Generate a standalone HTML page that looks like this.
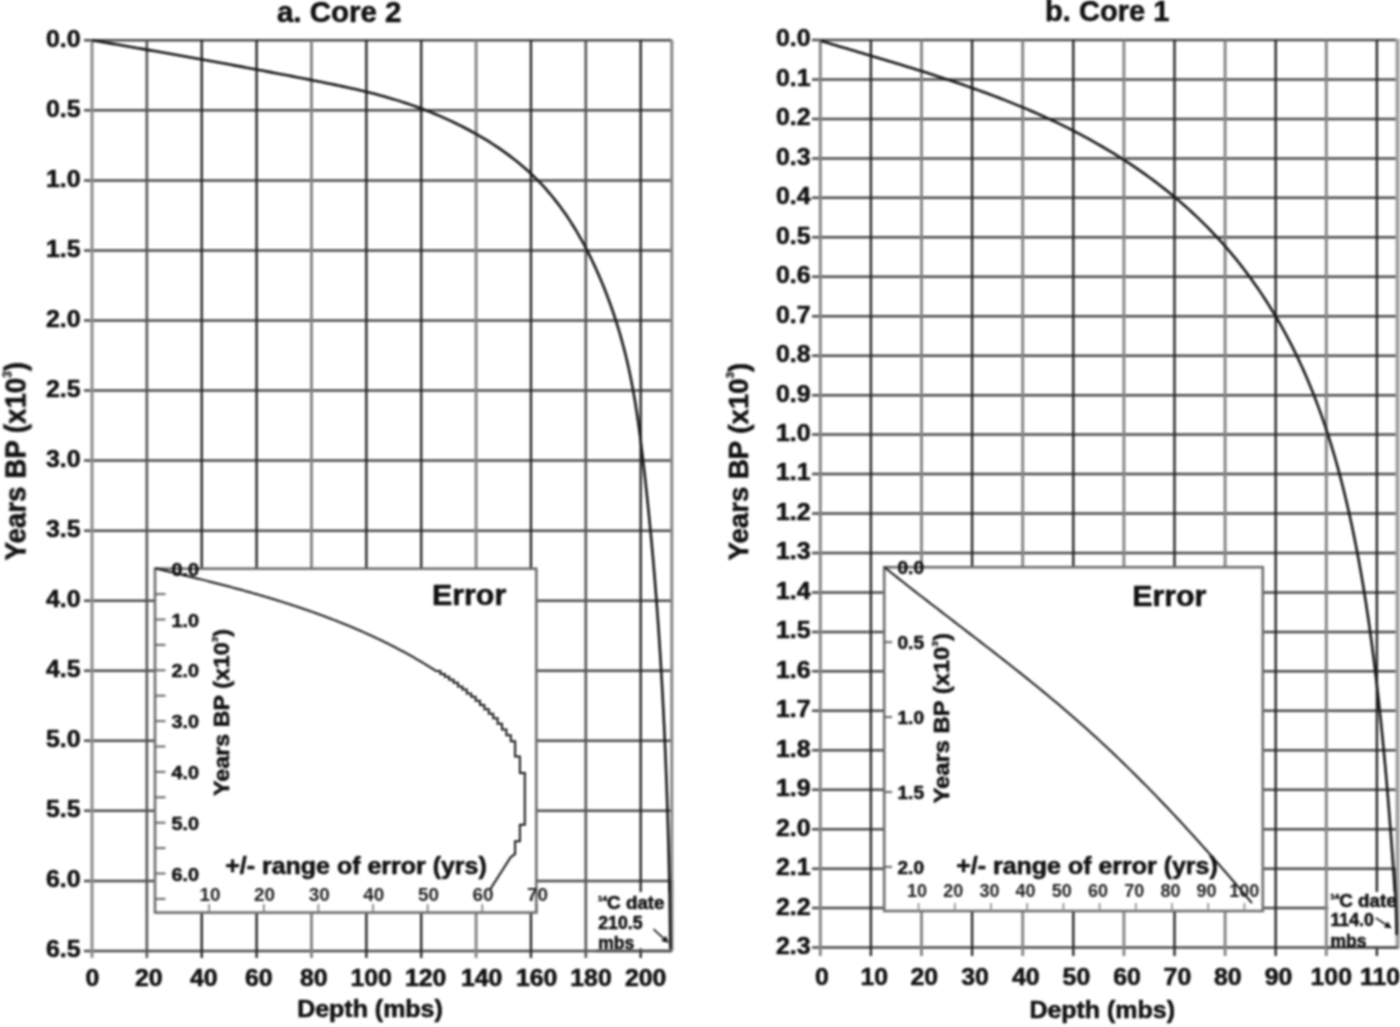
<!DOCTYPE html>
<html><head><meta charset="utf-8"><title>Age-depth curves</title>
<style>
html,body{margin:0;padding:0;background:#fff;overflow:hidden;}
svg{display:block;}
text{font-family:"Liberation Sans", Arial, Helvetica, sans-serif;stroke:#111;stroke-width:0.55px;stroke-linejoin:round;}
</style></head><body>
<svg width="1400" height="1027" viewBox="0 0 1400 1027">
<defs><filter id="soft" color-interpolation-filters="sRGB" filterUnits="userSpaceOnUse" x="0" y="0" width="1400" height="1027"><feGaussianBlur stdDeviation="0.85"/></filter></defs>
<rect width="1400" height="1027" fill="#fff"/>
<g filter="url(#soft)">
<line x1="84.00" y1="40.30" x2="671.80" y2="40.30" stroke="#4a4a4a" stroke-width="2.5" />
<line x1="84.00" y1="110.35" x2="671.80" y2="110.35" stroke="#4a4a4a" stroke-width="2.5" />
<line x1="84.00" y1="180.40" x2="671.80" y2="180.40" stroke="#4a4a4a" stroke-width="2.5" />
<line x1="84.00" y1="250.45" x2="671.80" y2="250.45" stroke="#4a4a4a" stroke-width="2.5" />
<line x1="84.00" y1="320.50" x2="671.80" y2="320.50" stroke="#4a4a4a" stroke-width="2.5" />
<line x1="84.00" y1="390.55" x2="671.80" y2="390.55" stroke="#4a4a4a" stroke-width="2.5" />
<line x1="84.00" y1="460.60" x2="671.80" y2="460.60" stroke="#4a4a4a" stroke-width="2.5" />
<line x1="84.00" y1="530.65" x2="671.80" y2="530.65" stroke="#4a4a4a" stroke-width="2.5" />
<line x1="84.00" y1="600.70" x2="671.80" y2="600.70" stroke="#4a4a4a" stroke-width="2.5" />
<line x1="84.00" y1="670.75" x2="671.80" y2="670.75" stroke="#4a4a4a" stroke-width="2.5" />
<line x1="84.00" y1="740.80" x2="671.80" y2="740.80" stroke="#4a4a4a" stroke-width="2.5" />
<line x1="84.00" y1="810.85" x2="671.80" y2="810.85" stroke="#4a4a4a" stroke-width="2.5" />
<line x1="84.00" y1="880.90" x2="671.80" y2="880.90" stroke="#4a4a4a" stroke-width="2.5" />
<line x1="84.00" y1="950.95" x2="671.80" y2="950.95" stroke="#4a4a4a" stroke-width="2.5" />
<line x1="92.00" y1="40.30" x2="92.00" y2="958.00" stroke="#8c8c8c" stroke-width="3" />
<line x1="146.87" y1="40.30" x2="146.87" y2="958.00" stroke="#555" stroke-width="2.6" />
<line x1="201.74" y1="40.30" x2="201.74" y2="958.00" stroke="#262626" stroke-width="2.4" />
<line x1="256.61" y1="40.30" x2="256.61" y2="958.00" stroke="#262626" stroke-width="2.4" />
<line x1="311.48" y1="40.30" x2="311.48" y2="958.00" stroke="#858585" stroke-width="2.9" />
<line x1="366.35" y1="40.30" x2="366.35" y2="958.00" stroke="#262626" stroke-width="2.4" />
<line x1="421.22" y1="40.30" x2="421.22" y2="958.00" stroke="#262626" stroke-width="2.4" />
<line x1="476.09" y1="40.30" x2="476.09" y2="958.00" stroke="#858585" stroke-width="2.9" />
<line x1="530.96" y1="40.30" x2="530.96" y2="958.00" stroke="#262626" stroke-width="2.4" />
<line x1="585.83" y1="40.30" x2="585.83" y2="958.00" stroke="#555" stroke-width="2.6" />
<line x1="640.70" y1="40.30" x2="640.70" y2="958.00" stroke="#262626" stroke-width="2.4" />
<line x1="671.80" y1="40.30" x2="671.80" y2="950.95" stroke="#858585" stroke-width="3" />
<line x1="812.00" y1="40.00" x2="1397.60" y2="40.00" stroke="#4a4a4a" stroke-width="2.5" />
<line x1="812.00" y1="79.46" x2="1397.60" y2="79.46" stroke="#4a4a4a" stroke-width="2.5" />
<line x1="812.00" y1="118.92" x2="1397.60" y2="118.92" stroke="#4a4a4a" stroke-width="2.5" />
<line x1="812.00" y1="158.38" x2="1397.60" y2="158.38" stroke="#4a4a4a" stroke-width="2.5" />
<line x1="812.00" y1="197.84" x2="1397.60" y2="197.84" stroke="#4a4a4a" stroke-width="2.5" />
<line x1="812.00" y1="237.30" x2="1397.60" y2="237.30" stroke="#4a4a4a" stroke-width="2.5" />
<line x1="812.00" y1="276.76" x2="1397.60" y2="276.76" stroke="#4a4a4a" stroke-width="2.5" />
<line x1="812.00" y1="316.22" x2="1397.60" y2="316.22" stroke="#4a4a4a" stroke-width="2.5" />
<line x1="812.00" y1="355.68" x2="1397.60" y2="355.68" stroke="#4a4a4a" stroke-width="2.5" />
<line x1="812.00" y1="395.14" x2="1397.60" y2="395.14" stroke="#4a4a4a" stroke-width="2.5" />
<line x1="812.00" y1="434.60" x2="1397.60" y2="434.60" stroke="#4a4a4a" stroke-width="2.5" />
<line x1="812.00" y1="474.06" x2="1397.60" y2="474.06" stroke="#4a4a4a" stroke-width="2.5" />
<line x1="812.00" y1="513.52" x2="1397.60" y2="513.52" stroke="#4a4a4a" stroke-width="2.5" />
<line x1="812.00" y1="552.98" x2="1397.60" y2="552.98" stroke="#4a4a4a" stroke-width="2.5" />
<line x1="812.00" y1="592.44" x2="1397.60" y2="592.44" stroke="#4a4a4a" stroke-width="2.5" />
<line x1="812.00" y1="631.90" x2="1397.60" y2="631.90" stroke="#4a4a4a" stroke-width="2.5" />
<line x1="812.00" y1="671.36" x2="1397.60" y2="671.36" stroke="#4a4a4a" stroke-width="2.5" />
<line x1="812.00" y1="710.82" x2="1397.60" y2="710.82" stroke="#4a4a4a" stroke-width="2.5" />
<line x1="812.00" y1="750.28" x2="1397.60" y2="750.28" stroke="#4a4a4a" stroke-width="2.5" />
<line x1="812.00" y1="789.74" x2="1397.60" y2="789.74" stroke="#4a4a4a" stroke-width="2.5" />
<line x1="812.00" y1="829.20" x2="1397.60" y2="829.20" stroke="#4a4a4a" stroke-width="2.5" />
<line x1="812.00" y1="868.66" x2="1397.60" y2="868.66" stroke="#4a4a4a" stroke-width="2.5" />
<line x1="812.00" y1="908.12" x2="1397.60" y2="908.12" stroke="#4a4a4a" stroke-width="2.5" />
<line x1="812.00" y1="947.58" x2="1397.60" y2="947.58" stroke="#4a4a4a" stroke-width="2.5" />
<line x1="820.30" y1="40.00" x2="820.30" y2="956.00" stroke="#858585" stroke-width="2.9" />
<line x1="870.90" y1="40.00" x2="870.90" y2="956.00" stroke="#262626" stroke-width="2.4" />
<line x1="921.50" y1="40.00" x2="921.50" y2="956.00" stroke="#858585" stroke-width="2.9" />
<line x1="972.10" y1="40.00" x2="972.10" y2="956.00" stroke="#262626" stroke-width="2.4" />
<line x1="1022.70" y1="40.00" x2="1022.70" y2="956.00" stroke="#858585" stroke-width="2.9" />
<line x1="1073.30" y1="40.00" x2="1073.30" y2="956.00" stroke="#262626" stroke-width="2.4" />
<line x1="1123.90" y1="40.00" x2="1123.90" y2="956.00" stroke="#858585" stroke-width="2.9" />
<line x1="1174.50" y1="40.00" x2="1174.50" y2="956.00" stroke="#262626" stroke-width="2.4" />
<line x1="1225.10" y1="40.00" x2="1225.10" y2="956.00" stroke="#858585" stroke-width="2.9" />
<line x1="1275.70" y1="40.00" x2="1275.70" y2="956.00" stroke="#262626" stroke-width="2.4" />
<line x1="1326.30" y1="40.00" x2="1326.30" y2="956.00" stroke="#858585" stroke-width="2.9" />
<line x1="1376.90" y1="40.00" x2="1376.90" y2="956.00" stroke="#262626" stroke-width="2.4" />
<line x1="1397.60" y1="39.00" x2="1397.60" y2="948.58" stroke="#a2a2a2" stroke-width="4.2" />
<rect x="155" y="568.7" width="381.30" height="343.90" fill="#fff" stroke="#6e6e6e" stroke-width="2.6"/>
<rect x="884.2" y="567.2" width="378.60" height="343.80" fill="#fff" stroke="#6e6e6e" stroke-width="2.6"/>
<path d="M92.01,40.32 L96.19,41.03 L100.37,41.73 L104.55,42.44 L108.72,43.15 L112.90,43.86 L117.08,44.57 L121.26,45.29 L125.44,46.01 L129.62,46.73 L133.80,47.45 L137.98,48.17 L142.17,48.89 L146.35,49.62 L150.53,50.35 L154.71,51.08 L158.89,51.81 L163.07,52.55 L167.26,53.28 L171.44,54.02 L175.62,54.76 L179.80,55.51 L183.98,56.25 L188.16,57.00 L192.34,57.75 L196.53,58.50 L200.71,59.25 L204.89,60.01 L209.07,60.76 L213.25,61.52 L217.43,62.28 L221.61,63.05 L225.78,63.82 L229.96,64.58 L234.14,65.35 L238.32,66.13 L242.49,66.90 L246.67,67.68 L250.84,68.46 L255.02,69.24 L259.19,70.03 L263.37,70.82 L267.54,71.61 L271.71,72.40 L275.88,73.19 L280.05,73.99 L284.22,74.79 L288.39,75.59 L292.55,76.39 L296.72,77.20 L300.88,78.01 L305.05,78.82 L309.21,79.64 L313.37,80.45 L317.53,81.27 L321.69,82.10 L325.84,82.93 L330.00,83.77 L334.15,84.62 L338.29,85.49 L342.44,86.36 L346.57,87.26 L350.71,88.17 L354.84,89.10 L358.96,90.05 L363.07,91.02 L367.18,92.02 L371.29,93.05 L375.38,94.10 L379.47,95.19 L383.55,96.31 L387.62,97.46 L391.68,98.64 L395.73,99.87 L399.77,101.13 L403.80,102.43 L407.82,103.77 L411.83,105.14 L415.83,106.56 L419.81,108.02 L423.78,109.51 L427.74,111.05 L431.68,112.63 L435.61,114.25 L439.53,115.91 L443.43,117.61 L447.31,119.36 L451.18,121.15 L455.03,122.98 L458.87,124.85 L462.68,126.77 L466.47,128.74 L470.24,130.74 L473.98,132.79 L477.70,134.89 L481.39,137.04 L485.04,139.22 L488.67,141.46 L492.27,143.74 L495.83,146.07 L499.35,148.45 L502.84,150.88 L506.29,153.35 L509.70,155.88 L513.06,158.45 L516.38,161.07 L519.66,163.74 L522.89,166.47 L526.07,169.24 L529.21,172.06 L532.29,174.94 L535.31,177.87 L538.29,180.85 L541.20,183.88 L544.06,186.97 L546.87,190.11 L549.62,193.29 L552.31,196.53 L554.95,199.81 L557.54,203.13 L560.08,206.50 L562.56,209.91 L565.00,213.36 L567.38,216.85 L569.72,220.38 L572.01,223.94 L574.25,227.54 L576.45,231.17 L578.60,234.83 L580.70,238.52 L582.76,242.24 L584.78,245.99 L586.76,249.76 L588.69,253.56 L590.59,257.38 L592.44,261.22 L594.25,265.08 L596.03,268.95 L597.77,272.85 L599.47,276.76 L601.13,280.68 L602.76,284.62 L604.36,288.56 L605.92,292.52 L607.44,296.50 L608.93,300.48 L610.38,304.47 L611.80,308.48 L613.19,312.50 L614.54,316.52 L615.85,320.56 L617.13,324.61 L618.38,328.66 L619.59,332.73 L620.77,336.80 L621.92,340.89 L623.03,344.98 L624.11,349.08 L625.16,353.19 L626.17,357.30 L627.15,361.42 L628.10,365.55 L629.01,369.69 L629.89,373.83 L630.74,377.98 L631.57,382.14 L632.36,386.30 L633.13,390.47 L633.87,394.64 L634.59,398.81 L635.28,403.00 L635.95,407.18 L636.60,411.37 L637.23,415.56 L637.84,419.76 L638.44,423.96 L639.02,428.16 L639.58,432.37 L640.13,436.58 L640.67,440.79 L641.20,445.00 L641.71,449.21 L642.22,453.43 L642.72,457.64 L643.21,461.86 L643.70,466.08 L644.18,470.29 L644.66,474.51 L645.13,478.73 L645.59,482.95 L646.05,487.17 L646.51,491.39 L646.96,495.61 L647.40,499.83 L647.84,504.06 L648.27,508.28 L648.70,512.50 L649.12,516.72 L649.54,520.95 L649.95,525.17 L650.36,529.40 L650.76,533.62 L651.16,537.85 L651.55,542.07 L651.93,546.30 L652.32,550.53 L652.69,554.76 L653.06,558.98 L653.43,563.21 L653.79,567.44 L654.15,571.67 L654.50,575.90 L654.85,580.13 L655.19,584.36 L655.53,588.59 L655.86,592.82 L656.19,597.05 L656.52,601.29 L656.84,605.52 L657.15,609.75 L657.46,613.98 L657.77,618.22 L658.07,622.45 L658.37,626.69 L658.66,630.92 L658.95,635.15 L659.23,639.39 L659.51,643.62 L659.79,647.86 L660.06,652.10 L660.32,656.33 L660.59,660.57 L660.85,664.81 L661.10,669.04 L661.35,673.28 L661.60,677.52 L661.84,681.76 L662.08,685.99 L662.31,690.23 L662.55,694.47 L662.77,698.71 L663.00,702.95 L663.21,707.19 L663.43,711.43 L663.64,715.67 L663.85,719.91 L664.05,724.15 L664.26,728.39 L664.45,732.63 L664.65,736.87 L664.84,741.11 L665.02,745.35 L665.21,749.59 L665.39,753.83 L665.56,758.07 L665.73,762.31 L665.90,766.56 L666.07,770.80 L666.23,775.04 L666.39,779.28 L666.55,783.52 L666.70,787.77 L666.85,792.01 L667.00,796.25 L667.14,800.49 L667.28,804.74 L667.42,808.98 L667.55,813.22 L667.69,817.46 L667.82,821.71 L667.94,825.95 L668.06,830.19 L668.18,834.44 L668.30,838.68 L668.42,842.92 L668.53,847.16 L668.64,851.41 L668.74,855.65 L668.85,859.89 L668.95,864.14 L669.05,868.38 L669.14,872.62 L669.24,876.87 L669.33,881.11 L669.42,885.35 L669.50,889.59 L669.58,893.84 L669.67,898.08 L669.75,902.32 L669.82,906.56 L669.90,910.81 L669.97,915.05 L670.04,919.29 L670.11,923.53 L670.17,927.78 L670.24,932.02 L670.30,936.26 L670.36,940.50 L670.41,944.74 L670.47,948.99" fill="none" stroke="#161616" stroke-width="2.6"/>
<path d="M820.72,40.85 L824.43,41.96 L828.15,43.06 L831.87,44.17 L835.60,45.28 L839.33,46.38 L843.07,47.49 L846.81,48.60 L850.56,49.70 L854.31,50.81 L858.07,51.92 L861.83,53.03 L865.59,54.15 L869.36,55.27 L873.13,56.38 L876.90,57.51 L880.68,58.63 L884.46,59.76 L888.23,60.90 L892.02,62.04 L895.80,63.18 L899.58,64.33 L903.37,65.49 L907.15,66.65 L910.94,67.82 L914.72,68.99 L918.51,70.17 L922.29,71.36 L926.08,72.56 L929.86,73.77 L933.65,74.98 L937.43,76.20 L941.20,77.44 L944.98,78.68 L948.76,79.93 L952.53,81.19 L956.30,82.47 L960.06,83.75 L963.83,85.05 L967.59,86.36 L971.34,87.67 L975.09,89.01 L978.84,90.35 L982.58,91.71 L986.32,93.08 L990.05,94.47 L993.77,95.87 L997.50,97.28 L1001.21,98.71 L1004.92,100.16 L1008.62,101.62 L1012.31,103.10 L1016.00,104.59 L1019.68,106.10 L1023.35,107.63 L1027.02,109.17 L1030.67,110.73 L1034.32,112.31 L1037.96,113.91 L1041.59,115.53 L1045.21,117.17 L1048.82,118.82 L1052.42,120.50 L1056.01,122.20 L1059.59,123.92 L1063.16,125.66 L1066.72,127.42 L1070.27,129.20 L1073.81,131.00 L1077.33,132.83 L1080.85,134.68 L1084.35,136.55 L1087.84,138.45 L1091.31,140.36 L1094.77,142.30 L1098.22,144.26 L1101.66,146.25 L1105.08,148.26 L1108.48,150.29 L1111.87,152.34 L1115.25,154.42 L1118.61,156.52 L1121.95,158.64 L1125.28,160.79 L1128.59,162.96 L1131.89,165.15 L1135.17,167.37 L1138.43,169.61 L1141.67,171.87 L1144.89,174.16 L1148.10,176.47 L1151.29,178.80 L1154.45,181.16 L1157.60,183.54 L1160.73,185.94 L1163.84,188.37 L1166.93,190.82 L1170.00,193.30 L1173.05,195.80 L1176.07,198.32 L1179.08,200.87 L1182.06,203.44 L1185.02,206.03 L1187.96,208.65 L1190.87,211.29 L1193.76,213.96 L1196.63,216.65 L1199.48,219.37 L1202.30,222.11 L1205.09,224.87 L1207.86,227.66 L1210.61,230.48 L1213.33,233.31 L1216.03,236.18 L1218.69,239.06 L1221.34,241.98 L1223.95,244.91 L1226.54,247.87 L1229.11,250.85 L1231.64,253.86 L1234.16,256.89 L1236.64,259.94 L1239.10,263.01 L1241.53,266.11 L1243.94,269.23 L1246.32,272.37 L1248.67,275.53 L1251.00,278.70 L1253.30,281.91 L1255.57,285.13 L1257.82,288.36 L1260.04,291.62 L1262.24,294.90 L1264.41,298.20 L1266.55,301.51 L1268.67,304.84 L1270.76,308.20 L1272.82,311.56 L1274.86,314.95 L1276.87,318.35 L1278.85,321.77 L1280.81,325.20 L1282.74,328.65 L1284.65,332.11 L1286.53,335.59 L1288.38,339.09 L1290.21,342.59 L1292.01,346.12 L1293.78,349.65 L1295.53,353.20 L1297.25,356.76 L1298.95,360.34 L1300.61,363.93 L1302.26,367.53 L1303.87,371.14 L1305.47,374.76 L1307.04,378.40 L1308.58,382.04 L1310.10,385.70 L1311.59,389.37 L1313.07,393.05 L1314.51,396.73 L1315.94,400.43 L1317.34,404.14 L1318.72,407.86 L1320.08,411.58 L1321.42,415.32 L1322.73,419.06 L1324.02,422.81 L1325.30,426.57 L1326.55,430.34 L1327.78,434.12 L1328.99,437.90 L1330.18,441.69 L1331.36,445.49 L1332.51,449.29 L1333.64,453.10 L1334.76,456.92 L1335.86,460.74 L1336.94,464.57 L1338.00,468.40 L1339.04,472.24 L1340.07,476.08 L1341.08,479.92 L1342.07,483.78 L1343.05,487.63 L1344.01,491.49 L1344.96,495.35 L1345.89,499.22 L1346.81,503.09 L1347.71,506.96 L1348.59,510.83 L1349.47,514.71 L1350.33,518.58 L1351.17,522.46 L1352.00,526.34 L1352.82,530.23 L1353.63,534.11 L1354.42,538.00 L1355.20,541.89 L1355.97,545.78 L1356.72,549.67 L1357.47,553.56 L1358.20,557.46 L1358.92,561.36 L1359.63,565.25 L1360.33,569.15 L1361.01,573.05 L1361.69,576.96 L1362.36,580.86 L1363.01,584.77 L1363.66,588.67 L1364.29,592.58 L1364.92,596.49 L1365.53,600.40 L1366.14,604.31 L1366.73,608.22 L1367.32,612.13 L1367.90,616.05 L1368.47,619.96 L1369.04,623.88 L1369.59,627.80 L1370.14,631.71 L1370.67,635.63 L1371.21,639.55 L1371.73,643.47 L1372.25,647.39 L1372.76,651.31 L1373.26,655.24 L1373.76,659.16 L1374.25,663.08 L1374.73,667.01 L1375.21,670.93 L1375.68,674.85 L1376.15,678.78 L1376.61,682.70 L1377.07,686.63 L1377.52,690.56 L1377.96,694.48 L1378.40,698.41 L1378.84,702.34 L1379.27,706.27 L1379.69,710.20 L1380.11,714.13 L1380.52,718.05 L1380.93,721.98 L1381.34,725.92 L1381.74,729.85 L1382.13,733.78 L1382.53,737.71 L1382.91,741.64 L1383.29,745.58 L1383.67,749.51 L1384.04,753.44 L1384.41,757.38 L1384.78,761.31 L1385.14,765.25 L1385.50,769.18 L1385.85,773.12 L1386.20,777.06 L1386.54,780.99 L1386.88,784.93 L1387.22,788.87 L1387.55,792.81 L1387.88,796.75 L1388.21,800.69 L1388.53,804.63 L1388.85,808.57 L1389.16,812.51 L1389.48,816.46 L1389.78,820.40 L1390.09,824.34 L1390.39,828.29 L1390.69,832.23 L1390.99,836.18 L1391.28,840.12 L1391.57,844.07 L1391.86,848.02 L1392.15,851.96 L1392.43,855.91 L1392.71,859.86 L1392.99,863.81 L1393.26,867.76 L1393.53,871.71 L1393.80,875.66 L1394.07,879.61 L1394.34,883.56 L1394.60,887.52 L1394.86,891.47 L1395.12,895.43 L1395.38,899.38 L1395.63,903.34 L1395.89,907.29 L1396.14,911.25 L1396.39,915.21 L1396.64,919.16 L1396.88,923.12 L1397.13,927.08 L1397.37,931.04 L1397.62,935.00" fill="none" stroke="#161616" stroke-width="2.6"/>
<line x1="155.00" y1="568.70" x2="165.50" y2="568.70" stroke="#666" stroke-width="2" />
<line x1="155.00" y1="594.10" x2="165.50" y2="594.10" stroke="#666" stroke-width="2" />
<line x1="155.00" y1="619.50" x2="165.50" y2="619.50" stroke="#666" stroke-width="2" />
<line x1="155.00" y1="644.90" x2="165.50" y2="644.90" stroke="#666" stroke-width="2" />
<line x1="155.00" y1="670.30" x2="165.50" y2="670.30" stroke="#666" stroke-width="2" />
<line x1="155.00" y1="695.70" x2="165.50" y2="695.70" stroke="#666" stroke-width="2" />
<line x1="155.00" y1="721.10" x2="165.50" y2="721.10" stroke="#666" stroke-width="2" />
<line x1="155.00" y1="746.50" x2="165.50" y2="746.50" stroke="#666" stroke-width="2" />
<line x1="155.00" y1="771.90" x2="165.50" y2="771.90" stroke="#666" stroke-width="2" />
<line x1="155.00" y1="797.30" x2="165.50" y2="797.30" stroke="#666" stroke-width="2" />
<line x1="155.00" y1="822.70" x2="165.50" y2="822.70" stroke="#666" stroke-width="2" />
<line x1="155.00" y1="848.10" x2="165.50" y2="848.10" stroke="#666" stroke-width="2" />
<line x1="155.00" y1="873.50" x2="165.50" y2="873.50" stroke="#666" stroke-width="2" />
<line x1="155.00" y1="898.90" x2="165.50" y2="898.90" stroke="#666" stroke-width="2" />
<line x1="209.13" y1="912.60" x2="209.13" y2="904.10" stroke="#777" stroke-width="1.6" />
<line x1="263.76" y1="912.60" x2="263.76" y2="904.10" stroke="#777" stroke-width="1.6" />
<line x1="318.39" y1="912.60" x2="318.39" y2="904.10" stroke="#777" stroke-width="1.6" />
<line x1="373.02" y1="912.60" x2="373.02" y2="904.10" stroke="#777" stroke-width="1.6" />
<line x1="427.65" y1="912.60" x2="427.65" y2="904.10" stroke="#777" stroke-width="1.6" />
<line x1="482.28" y1="912.60" x2="482.28" y2="904.10" stroke="#777" stroke-width="1.6" />
<line x1="536.91" y1="912.60" x2="536.91" y2="904.10" stroke="#777" stroke-width="1.6" />
<line x1="884.20" y1="567.20" x2="892.20" y2="567.20" stroke="#666" stroke-width="2" />
<line x1="884.20" y1="642.12" x2="892.20" y2="642.12" stroke="#666" stroke-width="2" />
<line x1="884.20" y1="717.05" x2="892.20" y2="717.05" stroke="#666" stroke-width="2" />
<line x1="884.20" y1="791.98" x2="892.20" y2="791.98" stroke="#666" stroke-width="2" />
<line x1="884.20" y1="866.90" x2="892.20" y2="866.90" stroke="#666" stroke-width="2" />
<line x1="918.60" y1="911.00" x2="918.60" y2="903.00" stroke="#888" stroke-width="1.6" />
<line x1="954.80" y1="911.00" x2="954.80" y2="903.00" stroke="#888" stroke-width="1.6" />
<line x1="991.00" y1="911.00" x2="991.00" y2="903.00" stroke="#888" stroke-width="1.6" />
<line x1="1027.20" y1="911.00" x2="1027.20" y2="903.00" stroke="#888" stroke-width="1.6" />
<line x1="1063.40" y1="911.00" x2="1063.40" y2="903.00" stroke="#888" stroke-width="1.6" />
<line x1="1099.60" y1="911.00" x2="1099.60" y2="903.00" stroke="#888" stroke-width="1.6" />
<line x1="1135.80" y1="911.00" x2="1135.80" y2="903.00" stroke="#888" stroke-width="1.6" />
<line x1="1172.00" y1="911.00" x2="1172.00" y2="903.00" stroke="#888" stroke-width="1.6" />
<line x1="1208.20" y1="911.00" x2="1208.20" y2="903.00" stroke="#888" stroke-width="1.6" />
<line x1="1244.40" y1="911.00" x2="1244.40" y2="903.00" stroke="#888" stroke-width="1.6" />
<path d="M155.18,568.40 L156.17,568.63 L157.17,568.86 L158.16,569.09 L159.15,569.33 L160.15,569.56 L161.14,569.79 L162.14,570.03 L163.13,570.26 L164.13,570.49 L165.12,570.73 L166.12,570.96 L167.11,571.20 L168.11,571.43 L169.10,571.67 L170.10,571.91 L171.09,572.14 L172.09,572.38 L173.09,572.62 L174.08,572.85 L175.08,573.09 L176.07,573.33 L177.07,573.57 L178.07,573.80 L179.07,574.04 L180.06,574.28 L181.06,574.52 L182.06,574.76 L183.06,575.00 L184.05,575.24 L185.05,575.48 L186.05,575.73 L187.05,575.97 L188.05,576.21 L189.04,576.45 L190.04,576.70 L191.04,576.94 L192.04,577.18 L193.04,577.43 L194.04,577.67 L195.04,577.92 L196.03,578.16 L197.03,578.41 L198.03,578.66 L199.03,578.91 L200.03,579.15 L201.03,579.40 L202.03,579.65 L203.03,579.90 L204.03,580.15 L205.03,580.40 L206.02,580.65 L207.02,580.90 L208.02,581.15 L209.02,581.41 L210.02,581.66 L211.02,581.91 L212.02,582.17 L213.02,582.42 L214.02,582.68 L215.02,582.93 L216.02,583.19 L217.01,583.45 L218.01,583.70 L219.01,583.96 L220.01,584.22 L221.01,584.48 L222.01,584.74 L223.01,585.00 L224.01,585.26 L225.00,585.52 L226.00,585.79 L227.00,586.05 L228.00,586.31 L229.00,586.58 L230.00,586.84 L230.99,587.11 L231.99,587.38 L232.99,587.64 L233.99,587.91 L234.98,588.18 L235.98,588.45 L236.98,588.72 L237.98,588.99 L238.97,589.26 L239.97,589.53 L240.97,589.81 L241.96,590.08 L242.96,590.36 L243.96,590.63 L244.95,590.91 L245.95,591.18 L246.94,591.46 L247.94,591.74 L248.93,592.02 L249.93,592.30 L250.92,592.58 L251.92,592.86 L252.91,593.14 L253.91,593.43 L254.90,593.71 L255.90,594.00 L256.89,594.28 L257.88,594.57 L258.88,594.86 L259.87,595.15 L260.86,595.43 L261.85,595.72 L262.85,596.02 L263.84,596.31 L264.83,596.60 L265.82,596.89 L266.81,597.19 L267.80,597.48 L268.79,597.78 L269.78,598.08 L270.77,598.38 L271.76,598.68 L272.75,598.98 L273.74,599.28 L274.73,599.58 L275.72,599.88 L276.71,600.19 L277.70,600.49 L278.68,600.80 L279.67,601.10 L280.66,601.41 L281.64,601.72 L282.63,602.03 L283.62,602.34 L284.60,602.65 L285.59,602.97 L286.57,603.28 L287.56,603.59 L288.54,603.91 L289.52,604.23 L290.51,604.55 L291.49,604.87 L292.47,605.19 L293.45,605.51 L294.44,605.83 L295.42,606.15 L296.40,606.48 L297.38,606.80 L298.36,607.13 L299.34,607.46 L300.32,607.79 L301.30,608.12 L302.27,608.45 L303.25,608.78 L304.23,609.11 L305.21,609.45 L306.18,609.79 L307.16,610.12 L308.13,610.46 L309.11,610.80 L310.08,611.14 L311.06,611.48 L312.03,611.83 L313.01,612.17 L313.98,612.51 L314.95,612.86 L315.92,613.21 L316.89,613.56 L317.86,613.91 L318.83,614.26 L319.80,614.61 L320.77,614.97 L321.74,615.32 L322.71,615.68 L323.68,616.04 L324.64,616.39 L325.61,616.75 L326.58,617.12 L327.54,617.48 L328.51,617.84 L329.47,618.21 L330.43,618.58 L331.40,618.94 L332.36,619.31 L333.32,619.68 L334.28,620.06 L335.24,620.43 L336.20,620.80 L337.16,621.18 L338.12,621.56 L339.08,621.94 L340.04,622.32 L340.99,622.70 L341.95,623.08 L342.91,623.47 L343.86,623.85 L344.82,624.24 L345.77,624.63 L346.72,625.02 L347.67,625.41 L348.63,625.80 L349.58,626.20 L350.53,626.59 L351.48,626.99 L352.43,627.39 L353.38,627.79 L354.32,628.19 L355.27,628.59 L356.22,629.00 L357.16,629.40 L358.11,629.81 L359.05,630.22 L359.99,630.63 L360.94,631.04 L361.88,631.46 L362.82,631.87 L363.76,632.29 L364.70,632.71 L365.64,633.12 L366.58,633.55 L367.52,633.97 L368.45,634.39 L369.39,634.82 L370.32,635.25 L371.26,635.68 L372.19,636.11 L373.12,636.54 L374.06,636.97 L374.99,637.41 L375.92,637.84 L376.85,638.28 L377.78,638.72 L378.71,639.17 L379.63,639.61 L380.56,640.05 L381.49,640.50 L382.41,640.95 L383.33,641.40 L384.26,641.85 L385.18,642.30 L386.10,642.76 L387.02,643.22 L387.94,643.68 L388.86,644.14 L389.78,644.60 L390.70,645.06 L391.61,645.53 L392.53,645.99 L393.44,646.46 L394.36,646.93 L395.27,647.41 L396.18,647.88 L397.09,648.36 L398.00,648.83 L398.91,649.31 L399.82,649.79 L400.73,650.28 L401.63,650.76 L402.54,651.25 L403.44,651.74 L404.35,652.23 L405.25,652.72 L406.15,653.21 L407.05,653.71 L407.95,654.20 L408.85,654.70 L409.75,655.20 L410.64,655.71 L411.54,656.21 L412.43,656.72 L413.33,657.23 L414.22,657.74 L415.11,658.25 L416.00,658.76 L416.89,659.28 L417.78,659.80 L418.67,660.32 L419.56,660.84 L420.44,661.36 L421.33,661.89 L422.21,662.41 L423.09,662.94 L423.98,663.48 L424.86,664.01 L425.74,664.54 L426.61,665.08 L427.49,665.62 L428.37,666.16 L429.24,666.70 L430.12,667.25 L430.99,667.80 L431.86,668.35 L432.73,668.90 L433.60,669.45 L434.47,670.00 L435.34,670.56 L436.00,671.12 L440.40,671.12 L440.40,673.95 L444.80,673.95 L444.80,676.83 L449.20,676.83 L449.20,679.76 L453.60,679.76 L453.60,682.76 L458.00,682.76 L458.00,686.44 L462.40,686.44 L462.40,689.57 L466.80,689.57 L466.80,693.43 L471.20,693.43 L471.20,696.73 L475.60,696.73 L475.60,700.79 L480.00,700.79 L480.00,704.96 L484.40,704.96 L484.40,709.26 L488.80,709.26 L488.80,713.68 L493.20,713.68 L493.20,718.24 L497.60,718.24 L497.60,723.74 L502.00,723.74 L502.00,729.41 L506.40,729.41 L506.40,735.25 L510.80,735.25 L510.80,741.23 L515.10,741.23 L515.20,747.31 L515.10,747.31 L515.1,756.5 L519.9,756.5 L519.9,773.1 L524.8,773.1 L524.8,824.7 L519.9,824.7 L519.9,841.3 L515.1,841.3 L515.1,853.9 L510.5,857.5 L491.5,887.2 L490.3,889.5" fill="none" stroke="#161616" stroke-width="2" stroke-linejoin="miter"/>
<path d="M884.66,567.45 L887.93,570.07 L891.20,572.68 L894.48,575.29 L897.77,577.89 L901.05,580.49 L904.35,583.08 L907.65,585.67 L910.95,588.26 L914.25,590.84 L917.56,593.42 L920.87,595.99 L924.19,598.56 L927.51,601.13 L930.82,603.69 L934.15,606.26 L937.47,608.82 L940.79,611.38 L944.12,613.94 L947.45,616.50 L950.77,619.06 L954.10,621.61 L957.43,624.17 L960.76,626.73 L964.09,629.29 L967.41,631.85 L970.74,634.41 L974.07,636.97 L977.39,639.53 L980.71,642.10 L984.03,644.67 L987.35,647.24 L990.67,649.81 L993.98,652.39 L997.29,654.97 L1000.60,657.55 L1003.90,660.14 L1007.20,662.73 L1010.50,665.33 L1013.79,667.93 L1017.08,670.54 L1020.36,673.15 L1023.63,675.77 L1026.91,678.40 L1030.17,681.03 L1033.43,683.67 L1036.69,686.31 L1039.94,688.96 L1043.18,691.62 L1046.41,694.29 L1049.64,696.97 L1052.86,699.65 L1056.07,702.35 L1059.28,705.05 L1062.47,707.76 L1065.66,710.49 L1068.84,713.22 L1072.01,715.96 L1075.17,718.71 L1078.32,721.48 L1081.47,724.25 L1084.60,727.04 L1087.72,729.84 L1090.83,732.65 L1093.94,735.46 L1097.03,738.29 L1100.11,741.13 L1103.19,743.99 L1106.25,746.85 L1109.31,749.72 L1112.36,752.60 L1115.39,755.49 L1118.42,758.39 L1121.44,761.30 L1124.45,764.22 L1127.45,767.15 L1130.45,770.09 L1133.43,773.04 L1136.41,775.99 L1139.38,778.96 L1142.34,781.93 L1145.29,784.91 L1148.23,787.90 L1151.16,790.90 L1154.09,793.91 L1157.01,796.92 L1159.92,799.94 L1162.82,802.97 L1165.71,806.01 L1168.60,809.05 L1171.48,812.10 L1174.35,815.16 L1177.21,818.23 L1180.07,821.30 L1182.92,824.38 L1185.76,827.46 L1188.59,830.56 L1191.42,833.65 L1194.24,836.76 L1197.05,839.87 L1199.86,842.98 L1202.65,846.10 L1205.45,849.23 L1208.23,852.36 L1211.01,855.50 L1213.78,858.64 L1216.55,861.79 L1219.30,864.94 L1222.06,868.09 L1224.80,871.25 L1227.54,874.42 L1230.27,877.59 L1233.00,880.76 L1235.72,883.94 L1238.44,887.12 L1241.15,890.31 L1243.85,893.49 L1246.55,896.69 L1249.24,899.88 L1251.93,903.08" fill="none" stroke="#161616" stroke-width="2"/>
<rect x="596" y="892" width="73" height="56.5" fill="#fff"/>
<rect x="1328.3" y="892" width="67.8" height="54.5" fill="#fff"/>
<line x1="671.80" y1="880.00" x2="671.80" y2="950.95" stroke="#858585" stroke-width="3" />
<line x1="1397.60" y1="880.00" x2="1397.60" y2="948.58" stroke="#a2a2a2" stroke-width="4.2" />
<line x1="596.00" y1="950.95" x2="671.80" y2="950.95" stroke="#4a4a4a" stroke-width="2.5" />
<line x1="1327.00" y1="947.58" x2="1397.60" y2="947.58" stroke="#4a4a4a" stroke-width="2.5" />
<path d="M669.5,879.5 L670.3,949" stroke="#161616" stroke-width="2.6" fill="none"/>
<path d="M1394,868.6 C1395,890 1396.3,905 1396.6,935" stroke="#161616" stroke-width="2.6" fill="none"/>
<text transform="translate(339.20,21.50)" font-size="29.5" font-weight="bold" text-anchor="middle" fill="#111">a. Core 2</text>
<text transform="translate(1107.20,21.20) scale(0.985,1.0)" font-size="29.5" font-weight="bold" text-anchor="middle" fill="#111">b. Core 1</text>
<text transform="translate(80.60,46.70) scale(1.07,1.0)" font-size="23.3" font-weight="bold" text-anchor="end" fill="#111">0.0</text>
<text transform="translate(80.60,116.75) scale(1.07,1.0)" font-size="23.3" font-weight="bold" text-anchor="end" fill="#111">0.5</text>
<text transform="translate(80.60,186.80) scale(1.07,1.0)" font-size="23.3" font-weight="bold" text-anchor="end" fill="#111">1.0</text>
<text transform="translate(80.60,256.85) scale(1.07,1.0)" font-size="23.3" font-weight="bold" text-anchor="end" fill="#111">1.5</text>
<text transform="translate(80.60,326.90) scale(1.07,1.0)" font-size="23.3" font-weight="bold" text-anchor="end" fill="#111">2.0</text>
<text transform="translate(80.60,396.95) scale(1.07,1.0)" font-size="23.3" font-weight="bold" text-anchor="end" fill="#111">2.5</text>
<text transform="translate(80.60,467.00) scale(1.07,1.0)" font-size="23.3" font-weight="bold" text-anchor="end" fill="#111">3.0</text>
<text transform="translate(80.60,537.05) scale(1.07,1.0)" font-size="23.3" font-weight="bold" text-anchor="end" fill="#111">3.5</text>
<text transform="translate(80.60,607.10) scale(1.07,1.0)" font-size="23.3" font-weight="bold" text-anchor="end" fill="#111">4.0</text>
<text transform="translate(80.60,677.15) scale(1.07,1.0)" font-size="23.3" font-weight="bold" text-anchor="end" fill="#111">4.5</text>
<text transform="translate(80.60,747.20) scale(1.07,1.0)" font-size="23.3" font-weight="bold" text-anchor="end" fill="#111">5.0</text>
<text transform="translate(80.60,817.25) scale(1.07,1.0)" font-size="23.3" font-weight="bold" text-anchor="end" fill="#111">5.5</text>
<text transform="translate(80.60,887.30) scale(1.07,1.0)" font-size="23.3" font-weight="bold" text-anchor="end" fill="#111">6.0</text>
<text transform="translate(80.60,957.35) scale(1.07,1.0)" font-size="23.3" font-weight="bold" text-anchor="end" fill="#111">6.5</text>
<text transform="translate(92.50,985.50) scale(1.08,1.0)" font-size="23" font-weight="bold" text-anchor="middle" fill="#111">0</text>
<text transform="translate(148.75,985.50) scale(1.08,1.0)" font-size="23" font-weight="bold" text-anchor="middle" fill="#111">20</text>
<text transform="translate(203.75,985.50) scale(1.08,1.0)" font-size="23" font-weight="bold" text-anchor="middle" fill="#111">40</text>
<text transform="translate(258.75,985.50) scale(1.08,1.0)" font-size="23" font-weight="bold" text-anchor="middle" fill="#111">60</text>
<text transform="translate(313.75,985.50) scale(1.08,1.0)" font-size="23" font-weight="bold" text-anchor="middle" fill="#111">80</text>
<text transform="translate(371.20,985.50) scale(1.08,1.0)" font-size="23" font-weight="bold" text-anchor="middle" fill="#111">100</text>
<text transform="translate(425.60,985.50) scale(1.08,1.0)" font-size="23" font-weight="bold" text-anchor="middle" fill="#111">120</text>
<text transform="translate(481.70,985.50) scale(1.08,1.0)" font-size="23" font-weight="bold" text-anchor="middle" fill="#111">140</text>
<text transform="translate(536.60,985.50) scale(1.08,1.0)" font-size="23" font-weight="bold" text-anchor="middle" fill="#111">160</text>
<text transform="translate(591.00,985.50) scale(1.08,1.0)" font-size="23" font-weight="bold" text-anchor="middle" fill="#111">180</text>
<text transform="translate(645.70,985.50) scale(1.08,1.0)" font-size="23" font-weight="bold" text-anchor="middle" fill="#111">200</text>
<text transform="translate(370.00,1017.30) scale(1.086,1.0)" font-size="23" font-weight="bold" text-anchor="middle" fill="#111">Depth (mbs)</text>
<text transform="translate(810.60,46.40) scale(1.07,1.0)" font-size="23.3" font-weight="bold" text-anchor="end" fill="#111">0.0</text>
<text transform="translate(810.60,85.86) scale(1.07,1.0)" font-size="23.3" font-weight="bold" text-anchor="end" fill="#111">0.1</text>
<text transform="translate(810.60,125.32) scale(1.07,1.0)" font-size="23.3" font-weight="bold" text-anchor="end" fill="#111">0.2</text>
<text transform="translate(810.60,164.78) scale(1.07,1.0)" font-size="23.3" font-weight="bold" text-anchor="end" fill="#111">0.3</text>
<text transform="translate(810.60,204.24) scale(1.07,1.0)" font-size="23.3" font-weight="bold" text-anchor="end" fill="#111">0.4</text>
<text transform="translate(810.60,243.70) scale(1.07,1.0)" font-size="23.3" font-weight="bold" text-anchor="end" fill="#111">0.5</text>
<text transform="translate(810.60,283.16) scale(1.07,1.0)" font-size="23.3" font-weight="bold" text-anchor="end" fill="#111">0.6</text>
<text transform="translate(810.60,322.62) scale(1.07,1.0)" font-size="23.3" font-weight="bold" text-anchor="end" fill="#111">0.7</text>
<text transform="translate(810.60,362.08) scale(1.07,1.0)" font-size="23.3" font-weight="bold" text-anchor="end" fill="#111">0.8</text>
<text transform="translate(810.60,401.54) scale(1.07,1.0)" font-size="23.3" font-weight="bold" text-anchor="end" fill="#111">0.9</text>
<text transform="translate(810.60,441.00) scale(1.07,1.0)" font-size="23.3" font-weight="bold" text-anchor="end" fill="#111">1.0</text>
<text transform="translate(810.60,480.46) scale(1.07,1.0)" font-size="23.3" font-weight="bold" text-anchor="end" fill="#111">1.1</text>
<text transform="translate(810.60,519.92) scale(1.07,1.0)" font-size="23.3" font-weight="bold" text-anchor="end" fill="#111">1.2</text>
<text transform="translate(810.60,559.38) scale(1.07,1.0)" font-size="23.3" font-weight="bold" text-anchor="end" fill="#111">1.3</text>
<text transform="translate(810.60,598.84) scale(1.07,1.0)" font-size="23.3" font-weight="bold" text-anchor="end" fill="#111">1.4</text>
<text transform="translate(810.60,638.30) scale(1.07,1.0)" font-size="23.3" font-weight="bold" text-anchor="end" fill="#111">1.5</text>
<text transform="translate(810.60,677.76) scale(1.07,1.0)" font-size="23.3" font-weight="bold" text-anchor="end" fill="#111">1.6</text>
<text transform="translate(810.60,717.22) scale(1.07,1.0)" font-size="23.3" font-weight="bold" text-anchor="end" fill="#111">1.7</text>
<text transform="translate(810.60,756.68) scale(1.07,1.0)" font-size="23.3" font-weight="bold" text-anchor="end" fill="#111">1.8</text>
<text transform="translate(810.60,796.14) scale(1.07,1.0)" font-size="23.3" font-weight="bold" text-anchor="end" fill="#111">1.9</text>
<text transform="translate(810.60,835.60) scale(1.07,1.0)" font-size="23.3" font-weight="bold" text-anchor="end" fill="#111">2.0</text>
<text transform="translate(810.60,875.06) scale(1.07,1.0)" font-size="23.3" font-weight="bold" text-anchor="end" fill="#111">2.1</text>
<text transform="translate(810.60,914.52) scale(1.07,1.0)" font-size="23.3" font-weight="bold" text-anchor="end" fill="#111">2.2</text>
<text transform="translate(810.60,953.98) scale(1.07,1.0)" font-size="23.3" font-weight="bold" text-anchor="end" fill="#111">2.3</text>
<text transform="translate(822.00,984.80) scale(1.08,1.0)" font-size="23" font-weight="bold" text-anchor="middle" fill="#111">0</text>
<text transform="translate(874.30,984.80) scale(1.08,1.0)" font-size="23" font-weight="bold" text-anchor="middle" fill="#111">10</text>
<text transform="translate(924.30,984.80) scale(1.08,1.0)" font-size="23" font-weight="bold" text-anchor="middle" fill="#111">20</text>
<text transform="translate(975.00,984.80) scale(1.08,1.0)" font-size="23" font-weight="bold" text-anchor="middle" fill="#111">30</text>
<text transform="translate(1025.70,984.80) scale(1.08,1.0)" font-size="23" font-weight="bold" text-anchor="middle" fill="#111">40</text>
<text transform="translate(1076.40,984.80) scale(1.08,1.0)" font-size="23" font-weight="bold" text-anchor="middle" fill="#111">50</text>
<text transform="translate(1127.10,984.80) scale(1.08,1.0)" font-size="23" font-weight="bold" text-anchor="middle" fill="#111">60</text>
<text transform="translate(1177.40,984.80) scale(1.08,1.0)" font-size="23" font-weight="bold" text-anchor="middle" fill="#111">70</text>
<text transform="translate(1227.70,984.80) scale(1.08,1.0)" font-size="23" font-weight="bold" text-anchor="middle" fill="#111">80</text>
<text transform="translate(1278.60,984.80) scale(1.08,1.0)" font-size="23" font-weight="bold" text-anchor="middle" fill="#111">90</text>
<text transform="translate(1331.25,984.80) scale(1.08,1.0)" font-size="23" font-weight="bold" text-anchor="middle" fill="#111">100</text>
<text transform="translate(1380.00,984.80) scale(1.08,1.0)" font-size="23" font-weight="bold" text-anchor="middle" fill="#111">110</text>
<text transform="translate(1102.20,1017.90) scale(1.086,1.0)" font-size="23" font-weight="bold" text-anchor="middle" fill="#111">Depth (mbs)</text>
<text transform="translate(25.60,461.20) rotate(-90) scale(1.066,1.12)" font-size="26" font-weight="bold" text-anchor="middle" fill="#111">Years BP (x10<tspan font-size="10.9" dy="-13.0" style="stroke-width:0.3px">3</tspan><tspan dy="13.0">)</tspan></text>
<text transform="translate(747.60,461.60) rotate(-90) scale(1.061,1.08)" font-size="26" font-weight="bold" text-anchor="middle" fill="#111">Years BP (x10<tspan font-size="10.9" dy="-13.0" style="stroke-width:0.3px">3</tspan><tspan dy="13.0">)</tspan></text>
<text transform="translate(171.60,575.70) scale(1.1,1.0)" font-size="18" font-weight="bold" text-anchor="start" fill="#111">0.0</text>
<text transform="translate(171.60,626.50) scale(1.1,1.0)" font-size="18" font-weight="bold" text-anchor="start" fill="#111">1.0</text>
<text transform="translate(171.60,677.30) scale(1.1,1.0)" font-size="18" font-weight="bold" text-anchor="start" fill="#111">2.0</text>
<text transform="translate(171.60,728.10) scale(1.1,1.0)" font-size="18" font-weight="bold" text-anchor="start" fill="#111">3.0</text>
<text transform="translate(171.60,778.90) scale(1.1,1.0)" font-size="18" font-weight="bold" text-anchor="start" fill="#111">4.0</text>
<text transform="translate(171.60,829.70) scale(1.1,1.0)" font-size="18" font-weight="bold" text-anchor="start" fill="#111">5.0</text>
<text transform="translate(171.60,880.50) scale(1.1,1.0)" font-size="18" font-weight="bold" text-anchor="start" fill="#111">6.0</text>
<text transform="translate(209.93,901.20) scale(1.05,1.0)" font-size="18" font-weight="bold" text-anchor="middle" fill="#222" style="stroke-width:0px">10</text>
<text transform="translate(264.56,901.20) scale(1.05,1.0)" font-size="18" font-weight="bold" text-anchor="middle" fill="#222" style="stroke-width:0px">20</text>
<text transform="translate(319.19,901.20) scale(1.05,1.0)" font-size="18" font-weight="bold" text-anchor="middle" fill="#222" style="stroke-width:0px">30</text>
<text transform="translate(373.82,901.20) scale(1.05,1.0)" font-size="18" font-weight="bold" text-anchor="middle" fill="#222" style="stroke-width:0px">40</text>
<text transform="translate(428.45,901.20) scale(1.05,1.0)" font-size="18" font-weight="bold" text-anchor="middle" fill="#222" style="stroke-width:0px">50</text>
<text transform="translate(483.08,901.20) scale(1.05,1.0)" font-size="18" font-weight="bold" text-anchor="middle" fill="#222" style="stroke-width:0px">60</text>
<text transform="translate(537.41,901.20) scale(1.05,1.0)" font-size="18" font-weight="bold" text-anchor="middle" fill="#222" style="stroke-width:0px">70</text>
<text transform="translate(469.10,605.40) scale(1.03,1.0)" font-size="29.5" font-weight="bold" text-anchor="middle" fill="#111">Error</text>
<text transform="translate(356.00,873.50) scale(1.086,1.0)" font-size="23" font-weight="bold" text-anchor="middle" fill="#111">+/- range of error (yrs)</text>
<text transform="translate(228.60,712.50) rotate(-90) scale(1.06,1.0)" font-size="22" font-weight="bold" text-anchor="middle" fill="#111">Years BP (x10<tspan font-size="9.2" dy="-11.0" style="stroke-width:0.3px">3</tspan><tspan dy="11.0">)</tspan></text>
<text transform="translate(897.50,573.80) scale(1.06,1.0)" font-size="18" font-weight="bold" text-anchor="start" fill="#111">0.0</text>
<text transform="translate(897.50,648.73) scale(1.06,1.0)" font-size="18" font-weight="bold" text-anchor="start" fill="#111">0.5</text>
<text transform="translate(897.50,723.65) scale(1.06,1.0)" font-size="18" font-weight="bold" text-anchor="start" fill="#111">1.0</text>
<text transform="translate(897.50,798.58) scale(1.06,1.0)" font-size="18" font-weight="bold" text-anchor="start" fill="#111">1.5</text>
<text transform="translate(897.50,873.50) scale(1.06,1.0)" font-size="18" font-weight="bold" text-anchor="start" fill="#111">2.0</text>
<text transform="translate(917.00,896.80)" font-size="18" font-weight="bold" text-anchor="middle" fill="#222" style="stroke-width:0px">10</text>
<text transform="translate(953.20,896.80)" font-size="18" font-weight="bold" text-anchor="middle" fill="#222" style="stroke-width:0px">20</text>
<text transform="translate(989.40,896.80)" font-size="18" font-weight="bold" text-anchor="middle" fill="#222" style="stroke-width:0px">30</text>
<text transform="translate(1025.60,896.80)" font-size="18" font-weight="bold" text-anchor="middle" fill="#222" style="stroke-width:0px">40</text>
<text transform="translate(1061.80,896.80)" font-size="18" font-weight="bold" text-anchor="middle" fill="#222" style="stroke-width:0px">50</text>
<text transform="translate(1098.00,896.80)" font-size="18" font-weight="bold" text-anchor="middle" fill="#222" style="stroke-width:0px">60</text>
<text transform="translate(1134.20,896.80)" font-size="18" font-weight="bold" text-anchor="middle" fill="#222" style="stroke-width:0px">70</text>
<text transform="translate(1170.40,896.80)" font-size="18" font-weight="bold" text-anchor="middle" fill="#222" style="stroke-width:0px">80</text>
<text transform="translate(1206.60,896.80)" font-size="18" font-weight="bold" text-anchor="middle" fill="#222" style="stroke-width:0px">90</text>
<text transform="translate(1244.30,896.80)" font-size="18" font-weight="bold" text-anchor="middle" fill="#222" style="stroke-width:0px">100</text>
<text transform="translate(1169.30,606.40) scale(1.03,1.0)" font-size="29.5" font-weight="bold" text-anchor="middle" fill="#111">Error</text>
<text transform="translate(1087.00,873.50) scale(1.086,1.0)" font-size="23" font-weight="bold" text-anchor="middle" fill="#111">+/- range of error (yrs)</text>
<text transform="translate(948.50,718.40) rotate(-90) scale(1.082,1.0)" font-size="22" font-weight="bold" text-anchor="middle" fill="#111">Years BP (x10<tspan font-size="9.2" dy="-11.0" style="stroke-width:0.3px">3</tspan><tspan dy="11.0">)</tspan></text>
<text transform="translate(598.00,901.30)" font-size="8" font-weight="bold" text-anchor="start" fill="#111">14</text>
<text transform="translate(607.10,908.80) scale(1.075,1.0)" font-size="17.5" font-weight="bold" text-anchor="start" fill="#111">C date</text>
<text transform="translate(598.30,929.10) scale(1.01,1.0)" font-size="17.5" font-weight="bold" text-anchor="start" fill="#111">210.5</text>
<text transform="translate(598.30,948.60)" font-size="17.5" font-weight="bold" text-anchor="start" fill="#111">mbs</text>
<text transform="translate(1330.20,899.00)" font-size="8" font-weight="bold" text-anchor="start" fill="#111">14</text>
<text transform="translate(1339.30,906.50) scale(1.075,1.0)" font-size="17.5" font-weight="bold" text-anchor="start" fill="#111">C date</text>
<text transform="translate(1330.50,926.30) scale(1.01,1.0)" font-size="17.5" font-weight="bold" text-anchor="start" fill="#111">114.0</text>
<text transform="translate(1330.50,947.00)" font-size="17.5" font-weight="bold" text-anchor="start" fill="#111">mbs</text>
<line x1="653.5" y1="929.1" x2="663.55" y2="938.36" stroke="#161616" stroke-width="1.6"/>
<polygon points="668.7,943.1 661.18,940.93 665.92,935.78" fill="#161616"/>
<line x1="1375.7" y1="917.8" x2="1385.85" y2="924.46" stroke="#161616" stroke-width="1.6"/>
<polygon points="1391.7,928.3 1383.93,927.39 1387.77,921.53" fill="#161616"/>
</g>
</svg>
</body></html>
